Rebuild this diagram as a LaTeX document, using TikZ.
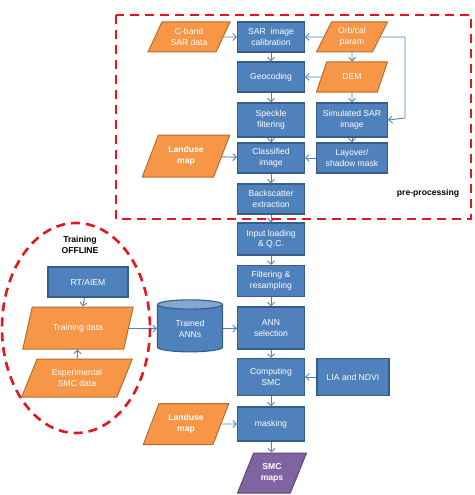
\documentclass[tikz,border=0pt]{standalone}
\usepackage{fontspec}
\setmainfont{Liberation Sans}
\definecolor{offblue}{HTML}{4F81BD}
\definecolor{offblueline}{HTML}{385D8A}
\definecolor{offorange}{HTML}{F79646}
\definecolor{offorangeline}{HTML}{B66D31}
\definecolor{offpurple}{HTML}{8064A2}
\definecolor{offpurpleline}{HTML}{5C4776}
\definecolor{dashred}{HTML}{E8141C}
\usetikzlibrary{shapes.geometric,arrows.meta,positioning,calc}

\begin{document}
\begin{tikzpicture}[x=1pt,y=-1pt,font=\fontsize{8.6}{10.5}\selectfont,
    blk/.style={rectangle,draw=offblueline,line width=1.1pt,fill=offblue,text=white,
        align=center,minimum width=67pt,minimum height=30pt,inner sep=1pt},
    data/.style={trapezium,trapezium left angle=62,trapezium right angle=118,trapezium stretches=true,
        draw=offorangeline,line width=1pt,fill=offorange,text=white,align=center,
        minimum width=82pt,minimum height=30pt,inner sep=1pt},
    flow/.style={-{Straight Barb[length=3.5pt,width=7pt]},draw=offblue,line width=0.9pt},
    region/.style={draw=dashred,line width=2.6pt,dash pattern=on 9pt off 6pt}]
    \useasboundingbox (0,0) rectangle (474,495);

    % Pre-processing chain
    \foreach \n/\y/\h/\label in {calib/37/30/{SAR~~image\\calibration},geo/77/30/Geocoding,
        speckle/120/34/{Speckle\\filtering},classif/158/30/{Classified\\image},
        backsc/199/30/{Backscatter\\extraction},input/239/32/{Input loading\\\& Q.C.},
        filt/281/31/{Filtering \&\\resampling},annsel/328/42/{ANN\\selection},
        comput/377/37/{Computing\\SMC},mask/424/34/masking} {
        \node[blk,minimum height=\h pt] (\n) at (271,\y) {\label};
    }

    % Right column
    \node[data,minimum width=71pt] (orbcal) at (352,37) {Orb/cal\\param};
    \node[data,minimum width=71pt] (dem) at (352,77) {DEM};
    \node[blk,minimum width=71pt,minimum height=34pt] (simsar) at (352,120) {Simulated SAR\\image};
    \node[blk,minimum width=71pt] (layover) at (352,158) {Layover/\\shadow mask};
    \node[blk,minimum width=72pt,minimum height=37pt] (lia) at (353,377) {LIA and NDVI};

    % Inputs on the left
    \node[data] (cband) at (189,37) {C-band\\SAR data};
    \node[data,minimum width=88pt,minimum height=42pt,font=\fontsize{8.6}{10.5}\selectfont\bfseries] (landuse) at (186,156) {Landuse\\map};
    \node[data,minimum width=86pt,minimum height=41pt,font=\fontsize{8.6}{10.5}\selectfont\bfseries] (landusem) at (186,424) {Landuse\\map};
    \node[data,draw=offpurpleline,fill=offpurple,minimum width=69pt,minimum height=40pt,
        font=\fontsize{8.6}{10.5}\selectfont\bfseries] (smcmaps) at (272,473) {SMC\\maps};

    % Training offline
    \node[blk,minimum width=80pt] (rtaiem) at (88,282) {RT/AIEM};
    \node[data,minimum width=111pt,minimum height=42pt] (train) at (78,328) {Training data};
    \node[data,minimum width=111pt,minimum height=38pt] (exper) at (77,378) {Experimental\\SMC data};
    \node[cylinder,shape border rotate=90,aspect=0.3,draw=offblueline,line width=1.1pt,
        cylinder uses custom fill,cylinder body fill=offblue,cylinder end fill=offblue!70!white,
        text=white,align=center,minimum width=65pt,minimum height=52pt,inner sep=1pt] (anns) at (190,329) {Trained\\ANNs};

    % Connections
    \draw[flow] (cband) -- (calib);
    \draw[flow] (orbcal) -- (calib);
    \draw[flow] (calib) -- (geo);
    \draw[flow] (orbcal) -- (dem);
    \draw[flow] (dem) -- (geo);
    \draw[flow] (geo) -- (speckle);
    \draw[flow] (dem) -- (simsar);
    \draw[flow] (orbcal.east) -- (405,37) -- (405,118) -- (simsar.east);
    \draw[flow] (speckle) -- (classif);
    \draw[flow] (simsar) -- (layover);
    \draw[flow] (layover) -- (classif);
    \draw[flow] (landuse) -- (classif);
    \foreach \a/\b in {classif/backsc,backsc/input,input/filt,filt/annsel,annsel/comput,comput/mask,mask/smcmaps} {
        \draw[flow] (\a) -- (\b);
    }
    \draw[flow] (lia) -- (comput);
    \draw[flow] (landusem) -- (mask);
    \draw[flow] (rtaiem) -- (train);
    \draw[flow] (exper) -- (train);
    \draw[flow] (train) -- (anns);
    \draw[flow] (anns) -- (annsel);

    % Dashed regions
    \draw[region] (116,15) rectangle (471,219);
    \node[font=\fontsize{8.6}{10.5}\selectfont\bfseries] (prelabel) at (428,193) {pre-processing};
    \draw[region] (76,328) ellipse (74 and 105);
    \node[font=\fontsize{8.6}{10.5}\selectfont\bfseries,align=center] (trainlabel) at (80,245) {Training\\OFFLINE};
\end{tikzpicture}
\end{document}
